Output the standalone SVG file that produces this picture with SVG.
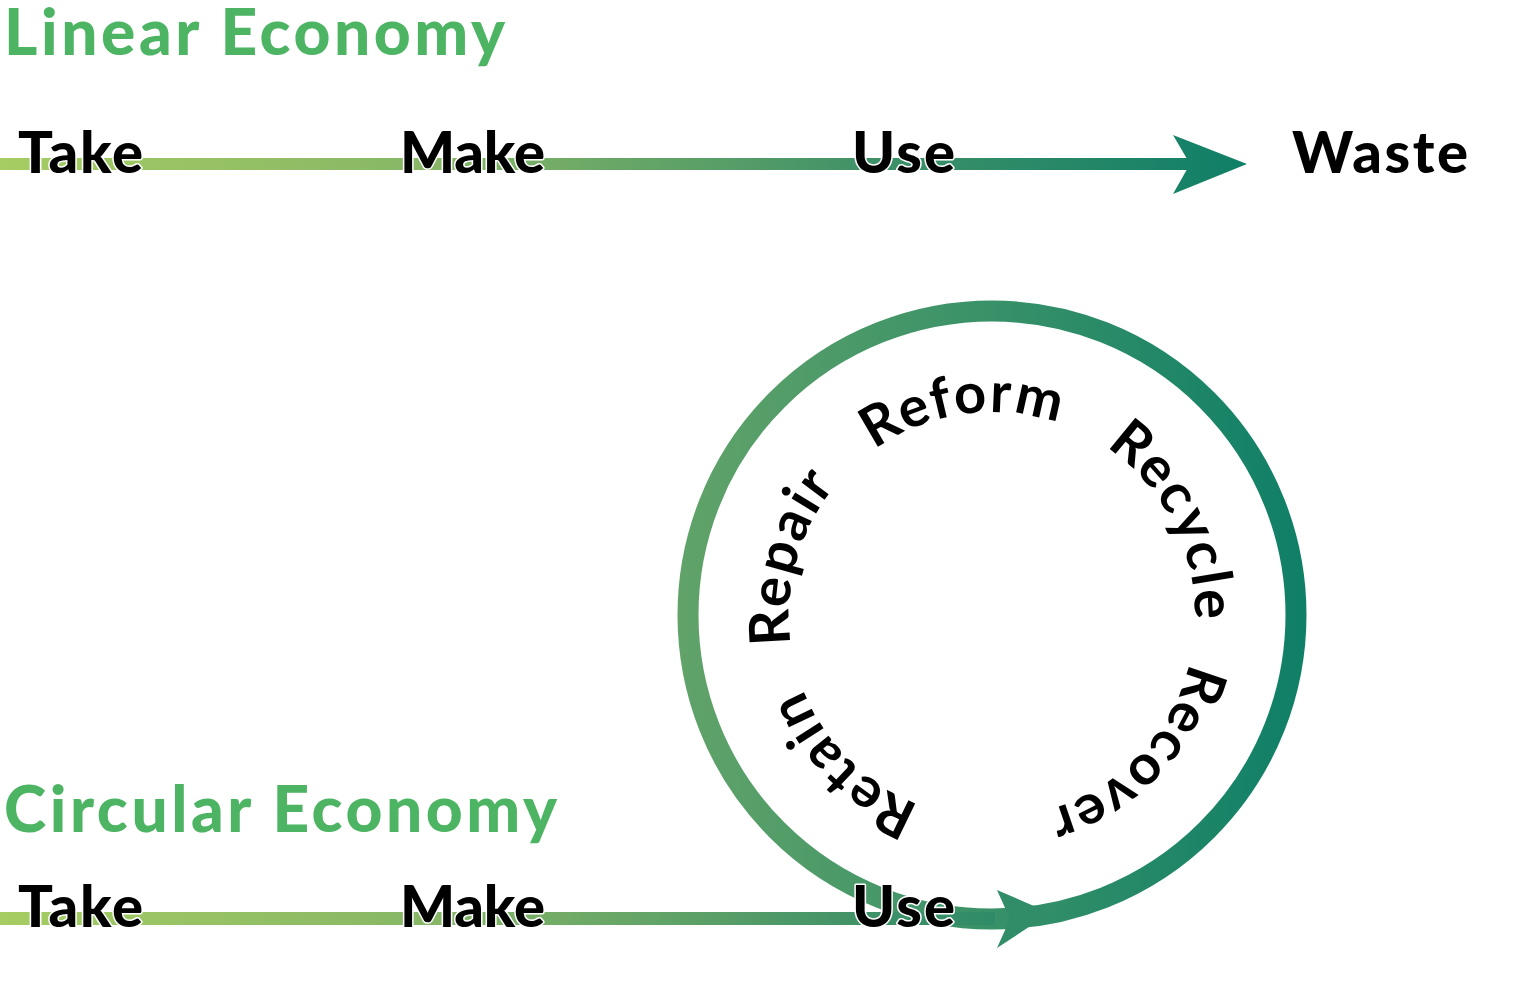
<svg xmlns="http://www.w3.org/2000/svg" xmlns:xlink="http://www.w3.org/1999/xlink" width="1536" height="988" viewBox="0 0 1536 988">
<defs>
<linearGradient id="barGrad" gradientUnits="userSpaceOnUse" x1="0" y1="0" x2="1247" y2="0">
<stop offset="0" stop-color="#a6cd63"/>
<stop offset="0.35" stop-color="#86b666"/>
<stop offset="0.7" stop-color="#3f9168"/>
<stop offset="1" stop-color="#0f7f67"/>
</linearGradient>
<linearGradient id="ringGrad" gradientUnits="userSpaceOnUse" x1="678" y1="0" x2="1306" y2="0">
<stop offset="0" stop-color="#61a369"/>
<stop offset="1" stop-color="#0f7f67"/>
</linearGradient>
<path id="circPath" d="M 992,818 A 203 203 0 1 1 992,412 A 203 203 0 1 1 992,818"/>
</defs>
<style>
.title{font-family:Lato,"Liberation Sans",sans-serif;font-weight:900;font-size:64px;fill:#4cb463}
.lbl{font-family:Lato,"Liberation Sans",sans-serif;font-weight:900;font-size:58px;fill:#000;stroke:#fff;stroke-width:3;paint-order:stroke;stroke-linejoin:round}
.waste{font-family:Lato,"Liberation Sans",sans-serif;font-weight:900;font-size:58px;fill:#000}
.arc{font-family:Lato,"Liberation Sans",sans-serif;font-weight:700;font-size:56px;fill:#000;letter-spacing:2px}
</style>
<rect width="1536" height="988" fill="#fff"/>

<g id="connectors">
<rect x="0" y="158" width="1192" height="12" fill="url(#barGrad)"/>
<polygon points="1173,135 1247,164 1173,194 1190,164" fill="url(#barGrad)"/>
<circle cx="992" cy="615" r="304" fill="none" stroke="url(#ringGrad)" stroke-width="21"/>
<rect x="0" y="912" width="995" height="13" fill="url(#barGrad)"/>
<polygon points="997,890 1050,913 997,948 1010,919" fill="#318c68"/>
</g>

<g id="linear-title"><text class="title" x="4" y="55" textLength="501">Linear Economy</text></g>
<g id="linear-take"><text class="lbl" x="18" y="173" textLength="125">Take</text></g>
<g id="linear-make"><text class="lbl" x="400" y="173" textLength="145">Make</text></g>
<g id="linear-use"><text class="lbl" x="852" y="173" textLength="103">Use</text></g>
<g id="linear-waste"><text class="waste" x="1292" y="173" textLength="176">Waste</text></g>

<g id="circular-title"><text class="title" x="4" y="832" textLength="553">Circular Economy</text></g>
<g id="circular-take"><text class="lbl" x="18" y="927" textLength="125">Take</text></g>
<g id="circular-make"><text class="lbl" x="400" y="927" textLength="145">Make</text></g>
<g id="circular-use"><text class="lbl" x="852" y="927" textLength="103">Use</text></g>

<g id="ring-labels">
<text class="arc" text-anchor="middle"><textPath xlink:href="#circPath" href="#circPath" startOffset="12.5%">Retain</textPath></text>
<text class="arc" text-anchor="middle"><textPath xlink:href="#circPath" href="#circPath" startOffset="29.4%">Repair</textPath></text>
<text class="arc" text-anchor="middle"><textPath xlink:href="#circPath" href="#circPath" startOffset="47.8%">Reform</textPath></text>
<text class="arc" text-anchor="middle"><textPath xlink:href="#circPath" href="#circPath" startOffset="67.5%">Recycle</textPath></text>
<text class="arc" text-anchor="middle"><textPath xlink:href="#circPath" href="#circPath" startOffset="87.2%">Recover</textPath></text>
</g>
</svg>
